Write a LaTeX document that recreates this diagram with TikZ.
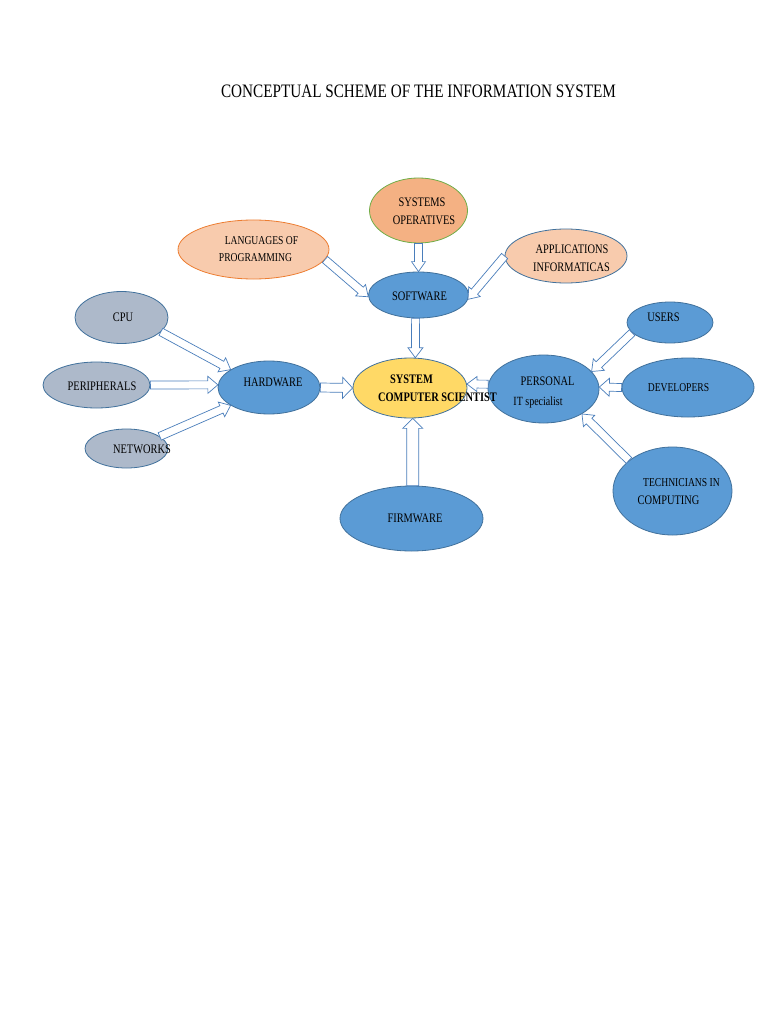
\documentclass[tikz,border=0pt]{standalone}
\usepackage{fontspec}
\setmainfont{Liberation Serif}[FakeStretch=0.8]
\usepackage{tikz}
\usetikzlibrary{shapes.geometric,calc}

\definecolor{nodeblue}{HTML}{5B9BD5}
\definecolor{edgeblue}{HTML}{41719C}
\definecolor{greyblue}{HTML}{ADB9CA}
\definecolor{sunyellow}{HTML}{FFD966}
\definecolor{salmon}{HTML}{F4B183}
\definecolor{peach}{HTML}{F8CBAD}
\definecolor{darkorange}{HTML}{ED7D31}
\definecolor{leafgreen}{HTML}{70AD47}
\definecolor{arrowblue}{HTML}{4A7EBB}

% hollow block arrow: shaft half width, head half width, from, to
\newcommand{\blockarrow}[4]{%
  \draw[blockstyle]
    ($(#3)!#1!90:(#4)$) -- ($(#4)!10pt!(#3)!#1!90:(#4)$)
    -- ($(#4)!10pt!(#3)!#2!90:(#4)$) -- (#4)
    -- ($(#4)!10pt!(#3)!#2!-90:(#4)$) -- ($(#4)!10pt!(#3)!#1!-90:(#4)$)
    -- ($(#3)!#1!-90:(#4)$) -- cycle;}

\begin{document}
\begin{tikzpicture}[x=1pt, y=-1pt,
  ell/.style={ellipse, draw=edgeblue, line width=0.8pt, inner sep=0pt},
  blueell/.style={ell, fill=nodeblue},
  greyell/.style={ell, fill=greyblue},
  txt/.style={inner sep=0pt, font=\fontsize{13}{15}\selectfont},
  smalltxt/.style={inner sep=0pt, font=\fontsize{12}{14}\selectfont},
  boldtxt/.style={inner sep=0pt, font=\fontsize{13}{15}\selectfont\bfseries},
  titletxt/.style={inner sep=0pt, font=\fontsize{19}{22}\selectfont},
  blockstyle/.style={draw=arrowblue, fill=white, line width=0.7pt, line join=miter}]

\fill[white] (0,0) rectangle (768,1024);
\useasboundingbox (0,0) rectangle (768,1024);

% software branch
\node[ell, fill=salmon, draw=leafgreen, minimum width=98, minimum height=65] (sysop) at (418.5,210.5) {};
\node[ell, fill=peach, draw=darkorange, minimum width=151, minimum height=59] (lang) at (253.5,249.5) {};
\node[ell, fill=peach, minimum width=122, minimum height=54] (apps) at (566,256) {};
\node[blueell, minimum width=100, minimum height=46] (soft) at (418.5,295) {};

% hardware branch
\node[greyell, minimum width=93, minimum height=52] (cpu) at (121.5,317.5) {};
\node[greyell, minimum width=107, minimum height=46] (peri) at (96.5,385) {};
\node[greyell, minimum width=83, minimum height=39] (net) at (126.5,448.5) {};
\node[blueell, minimum width=102, minimum height=53] (hard) at (269,387.5) {};

% centre and firmware
\node[ell, fill=sunyellow, minimum width=114, minimum height=60] (core) at (410,388) {};
\node[blueell, minimum width=143, minimum height=65] (firm) at (411.5,518.5) {};

% people branch
\node[blueell, minimum width=111, minimum height=68] (pers) at (543.5,389) {};
\node[blueell, minimum width=86, minimum height=41] (users) at (670,322.5) {};
\node[blueell, minimum width=132, minimum height=59] (dev) at (688,387.5) {};
\node[blueell, minimum width=119, minimum height=88] (tech) at (672.5,491) {};

% arrows
\blockarrow{4pt}{7pt}{sysop.south}{soft.north}
\blockarrow{4pt}{7.5pt}{lang.-8}{soft.182}
\blockarrow{4pt}{7.5pt}{apps.west}{soft.-5}
\blockarrow{4pt}{7.5pt}{soft.-97}{core.80}
\blockarrow{4pt}{8pt}{cpu.-20}{hard.155}
\blockarrow{4pt}{8.5pt}{peri.east}{hard.177}
\blockarrow{4pt}{8pt}{net.20}{hard.205}
\blockarrow{4.5pt}{10.5pt}{hard.east}{core.west}
\blockarrow{6pt}{10pt}{firm.88}{core.-85}
\blockarrow{4pt}{7.5pt}{pers.175}{core.4}
\blockarrow{4pt}{8pt}{users.-165}{pers.20}
\blockarrow{4pt}{9pt}{dev.west}{pers.2}
\blockarrow{4pt}{8pt}{tech.145}{pers.-33}

% texts
\node[titletxt] (title) at (418.5,91) {CONCEPTUAL SCHEME OF THE INFORMATION SYSTEM};
\node[txt] (sysop-a) at (422,202.5) {SYSTEMS};
\node[txt] (sysop-b) at (424,220) {OPERATIVES};
\node[smalltxt] (lang-a) at (261.5,241) {LANGUAGES OF};
\node[smalltxt] (lang-b) at (255.5,257.5) {PROGRAMMING};
\node[txt] (apps-a) at (572,249) {APPLICATIONS};
\node[txt] (apps-b) at (571.5,267) {INFORMATICAS};
\node[txt] (soft-t) at (419.5,296.5) {SOFTWARE};
\node[txt] (cpu-t) at (123,317) {CPU};
\node[txt] (peri-t) at (102,386) {PERIPHERALS};
\node[txt] (net-t) at (142,449) {NETWORKS};
\node[txt] (hard-t) at (273,382) {HARDWARE};
\node[boldtxt] (core-a) at (411.5,379.5) {SYSTEM};
\node[boldtxt] (core-b) at (437.5,397.5) {COMPUTER SCIENTIST};
\node[txt] (pers-a) at (547.5,381.5) {PERSONAL};
\node[txt, anchor=base, font=\fontsize{12.5}{14}\selectfont] (pers-b) at (538,405) {IT specialist};
\node[txt] (users-t) at (663.5,317.5) {USERS};
\node[smalltxt] (dev-t) at (678.5,388) {DEVELOPERS};
\node[smalltxt] (tech-a) at (681.5,482.5) {TECHNICIANS IN};
\node[txt] (tech-b) at (668.5,500.5) {COMPUTING};
\node[txt] (firm-t) at (415,518.5) {FIRMWARE};
\end{tikzpicture}
\end{document}
